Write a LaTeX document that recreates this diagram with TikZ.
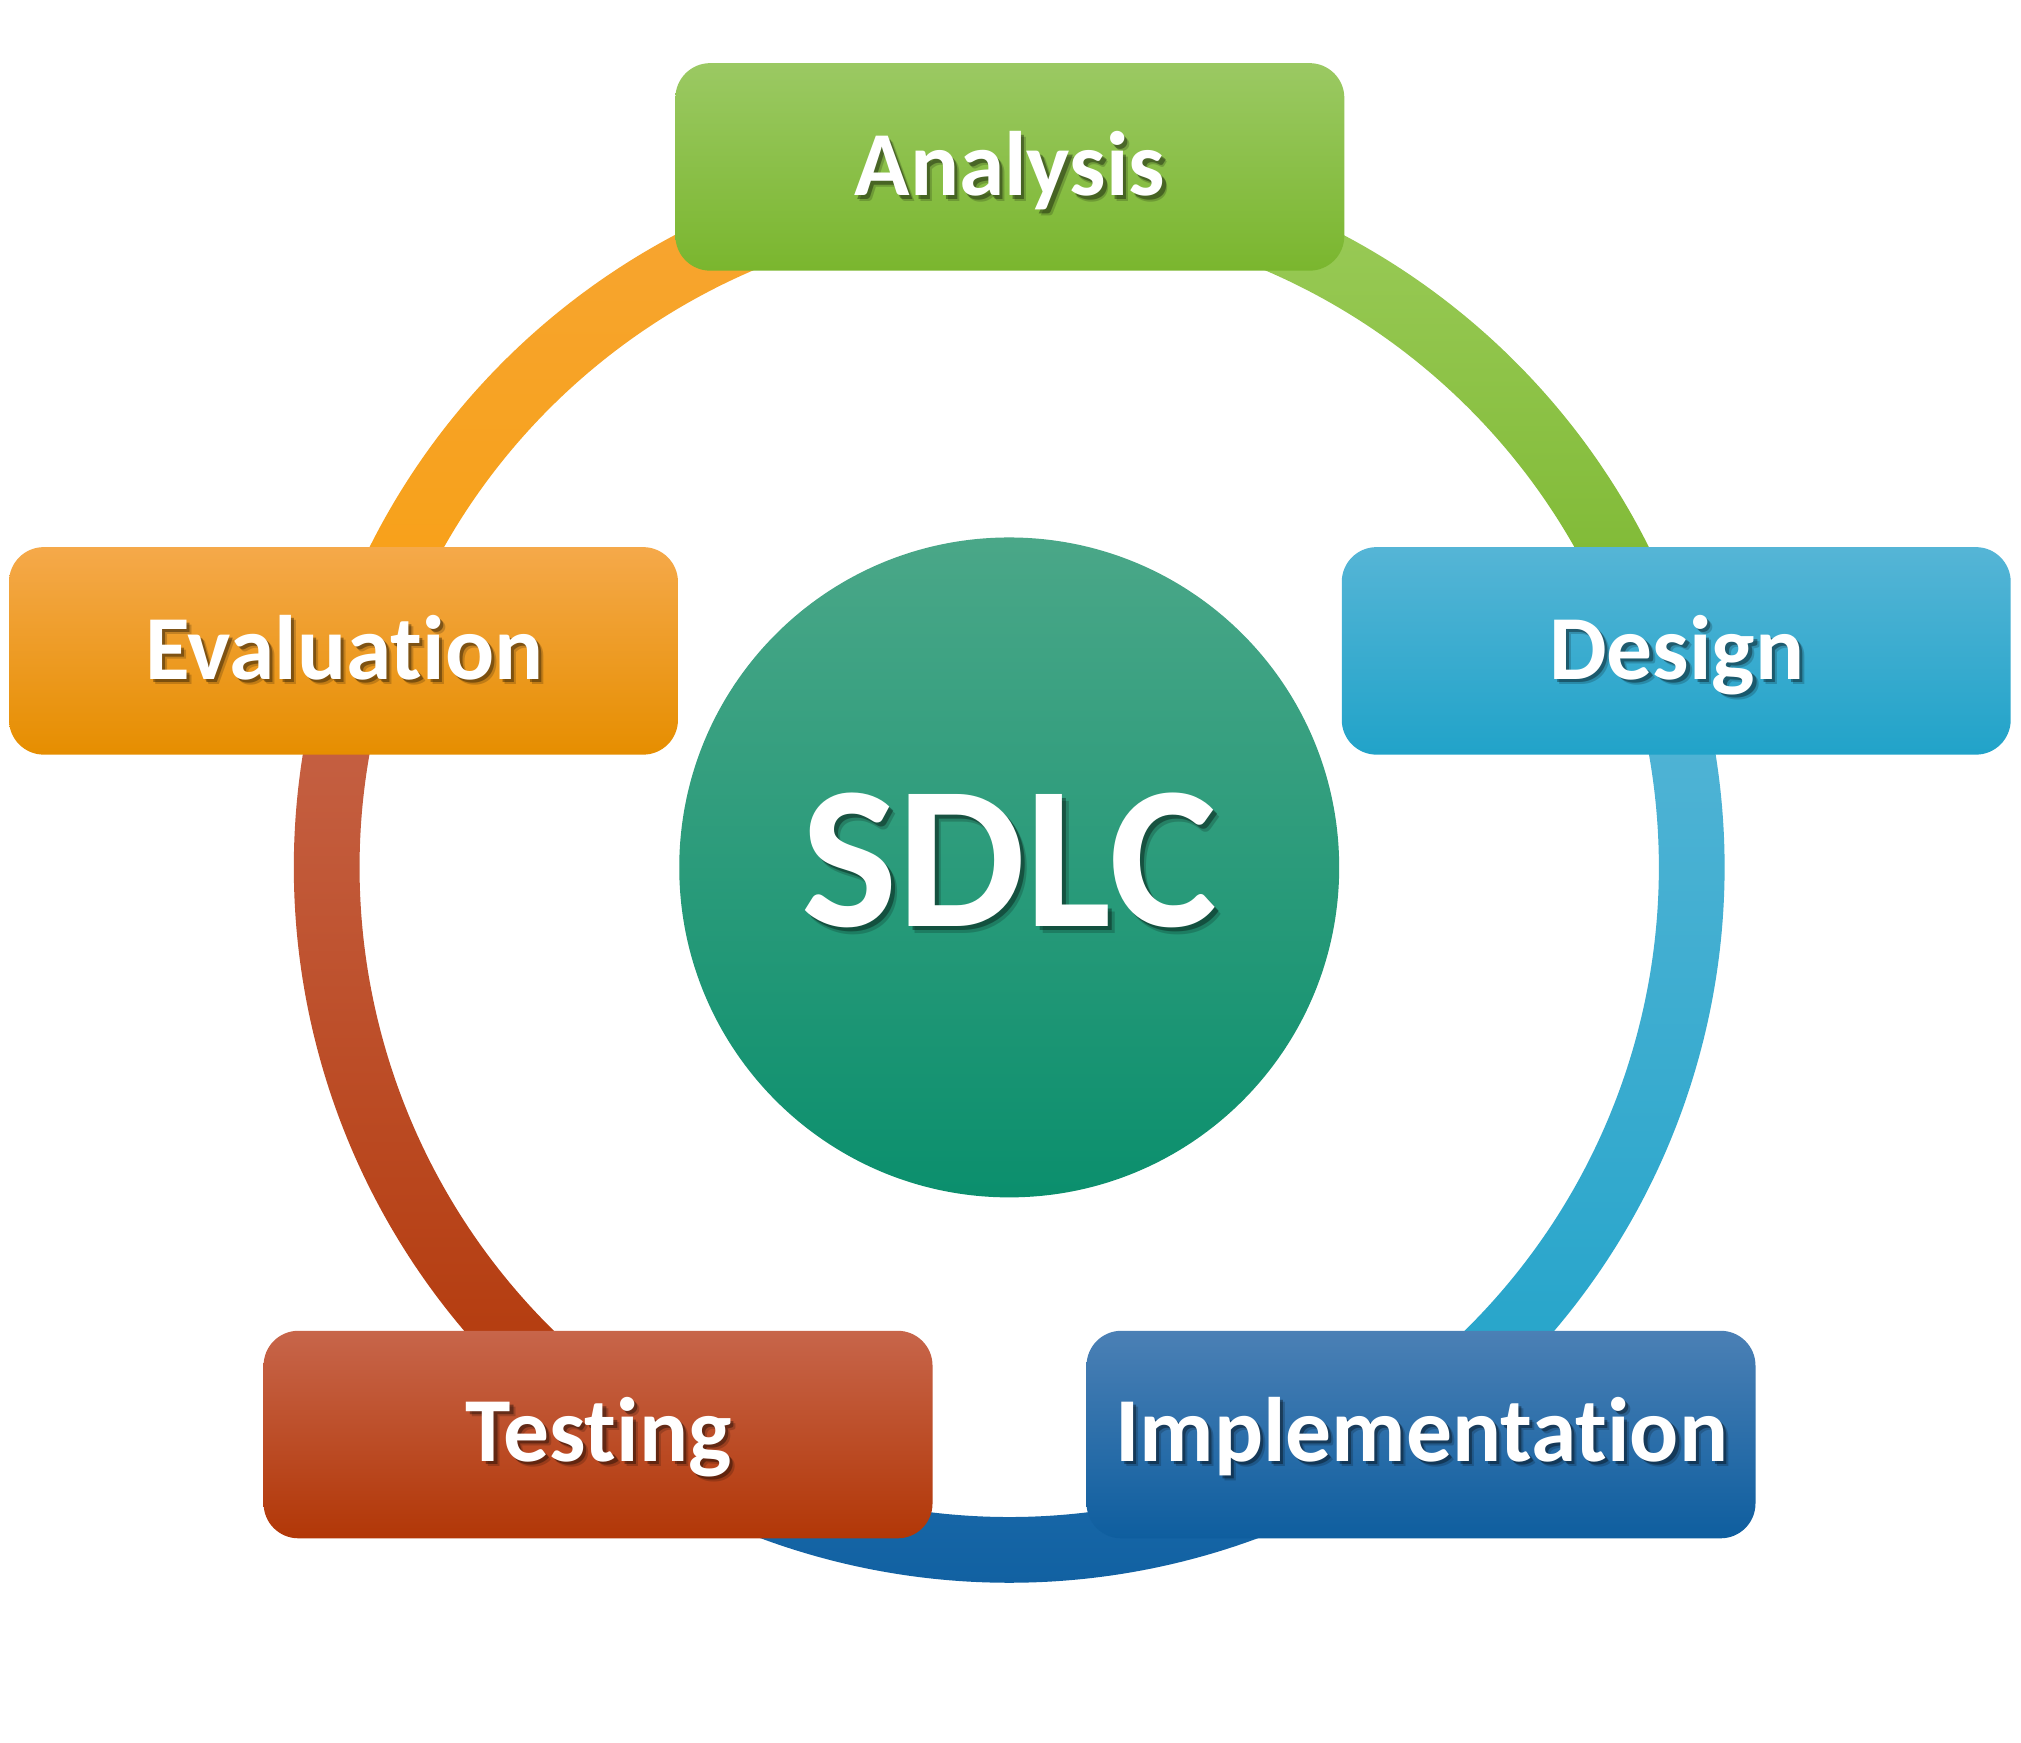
\documentclass[tikz,border=0pt]{standalone}
\usepackage{fontspec}
\setmainfont{Carlito}[Ligatures=CommonOff]
\definecolor{gA1}{HTML}{9BC963}\definecolor{gA2}{HTML}{8CC43F}\definecolor{gA3}{HTML}{7AB62E}
\definecolor{oE1}{HTML}{F5A94A}\definecolor{oE2}{HTML}{F8A013}\definecolor{oE3}{HTML}{E68E00}
\definecolor{bD1}{HTML}{55B5D6}\definecolor{bD2}{HTML}{30B0D6}\definecolor{bD3}{HTML}{21A3C9}
\definecolor{rT1}{HTML}{C7654A}\definecolor{rT2}{HTML}{BE4A1F}\definecolor{rT3}{HTML}{B23707}
\definecolor{bI1}{HTML}{4B80B5}\definecolor{bI2}{HTML}{1F6EAE}\definecolor{bI3}{HTML}{0E5E9F}
\definecolor{cS1}{HTML}{4AA788}\definecolor{cS2}{HTML}{22A07C}\definecolor{cS3}{HTML}{0B8F6D}
\newcommand\ringseg[4]{%
  \shade[shift={(783,679)},top color=#3,bottom color=#4]
    (#1:555) arc[start angle=#1,end angle=#2,radius=555]
    -- (#2:504) arc[start angle=#2,end angle=#1,radius=504] -- cycle;}
\newcommand\stagelabel[4]{% name, x, y(baseline), text
  \node[shadowtxt,opacity=0.18] at (#2+4,#3-4) {#4};
  \node[shadowtxt,opacity=0.35] at (#2+2.5,#3-2.5) {#4};
  \node[labeltxt] (#1) at (#2,#3) {#4};}
\begin{document}
\begin{tikzpicture}[x=1pt,y=1pt,
  stagebox/.style={minimum width=519pt,minimum height=161pt,rounded corners=27pt,inner sep=0pt},
  labeltxt/.style={anchor=base,text=white,font=\fontsize{71}{75}\selectfont\bfseries,inner sep=0pt},
  shadowtxt/.style={anchor=base,text=black,font=\fontsize{71}{75}\selectfont\bfseries,inner sep=0pt}]
\useasboundingbox (0,0) rectangle (1568,1352);
\fill[white] (0,0) rectangle (1568,1352);
% ring segments
\ringseg{18}{90}{gA2!85!white}{gA3}
\ringseg{90}{162}{oE1!60!oE2}{oE2}
\ringseg{-54}{18}{bD1}{bD3}
\ringseg{-126}{-54}{bI2}{bI3}
\ringseg{162}{234}{rT1}{rT3}
% centre circle
\shade[top color=cS1,middle color=cS2,bottom color=cS3] (783,679) circle[radius=256];
\node[shadowtxt,opacity=0.18,font=\fontsize{158}{162}\selectfont\bfseries] at (788,628) {SDLC};
\node[shadowtxt,opacity=0.35,font=\fontsize{158}{162}\selectfont\bfseries] at (786,630) {SDLC};
\node[labeltxt,font=\fontsize{158}{162}\selectfont\bfseries] (sdlc) at (783,633) {SDLC};
% stage boxes
\node[stagebox,top color=gA1,middle color=gA2,bottom color=gA3] (analysis) at (783.5,1222.5) {};
\node[stagebox,top color=oE1,middle color=oE2,bottom color=oE3] (evaluation) at (266.5,847) {};
\node[stagebox,top color=bD1,middle color=bD2,bottom color=bD3] (design) at (1300.5,847) {};
\node[stagebox,top color=rT1,middle color=rT2,bottom color=rT3] (testing) at (464,239) {};
\node[stagebox,top color=bI1,middle color=bI2,bottom color=bI3] (implementation) at (1102.5,239) {};
\stagelabel{tA}{783.5}{1200}{Analysis}
\stagelabel{tE}{267}{825}{Evaluation}
\stagelabel{tD}{1301}{825}{Design}
\stagelabel{tT}{464.5}{218}{Testing}
\stagelabel{tI}{1103}{218}{Implementation}
\end{tikzpicture}
\end{document}
